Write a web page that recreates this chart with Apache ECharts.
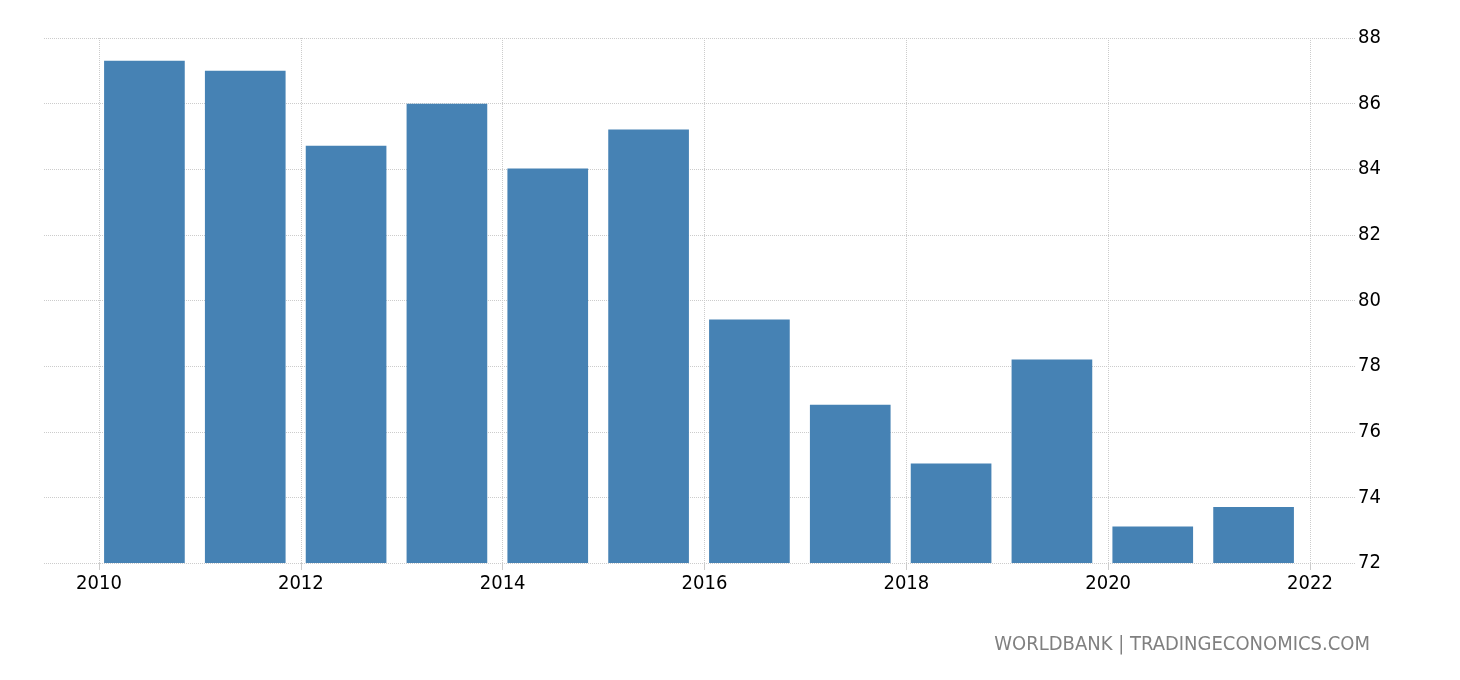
<!DOCTYPE html>
<html>
<head>
<meta charset="utf-8">
<script src="https://cdn.jsdelivr.net/npm/echarts@6/dist/echarts.min.js"></script>
<style>
    html, body { margin: 0; padding: 0; background: #fff; }
    #chart { width: 1460px; height: 680px; }
</style>
</head>
<body>
<div id="chart"></div>
<script>
// 数据
var years = ['2010', '2011', '2012', '2013', '2014', '2015', '2016', '2017', '2018', '2019', '2020', '2021'];
var values = [87.31, 87.0, 84.72, 86.0, 84.02, 85.21, 79.42, 76.82, 75.03, 78.2, 73.11, 73.71];
var yMin = 72, yMax = 88, yStep = 2;
var xMin = 2010, xMax = 2022, xStep = 2;

(function () {
    var font = "'DejaVu Sans Condensed', 'Liberation Sans', sans-serif"
    var gridColor = '#cccccc'
    var dotted = { color: gridColor, width: 1, type: [1, 1] }

    var myChart = echarts.init(document.getElementById('chart'))
    var option = {
        animation: false,
        // 0: 横向网格 + 右侧刻度, 1: 年份刻度 + 竖向网格, 2: 柱子
        grid: [
            { left: 44, right: 105, top: 38, height: 525 },
            { left: 99, right: 150, top: 38, height: 525 },
            { left: 94, right: 156, top: 38, height: 525 }
        ],
        xAxis: [
            { gridIndex: 0, type: 'value', show: false, min: 0, max: 1 },
            {
                gridIndex: 1, type: 'value', min: xMin, max: xMax, interval: xStep,
                axisLine: { show: false },
                axisTick: { show: true, length: 7, lineStyle: { color: gridColor } },
                axisLabel: {
                    color: '#000', fontFamily: font, fontSize: 20, margin: 11,
                    formatter: function (v) { return String(v) }
                },
                splitLine: { show: true, lineStyle: dotted }
            },
            { gridIndex: 2, type: 'category', data: years, show: false }
        ],
        yAxis: [
            {
                gridIndex: 0, type: 'value', position: 'right',
                min: yMin, max: yMax, interval: yStep,
                axisLine: { show: false },
                axisTick: { show: false },
                axisLabel: { color: '#000', fontFamily: font, fontSize: 20, margin: 3 },
                splitLine: { show: true, lineStyle: dotted }
            },
            { gridIndex: 1, type: 'value', show: false, min: yMin, max: yMax },
            { gridIndex: 2, type: 'value', show: false, min: yMin, max: yMax }
        ],
        series: [{
            type: 'bar',
            xAxisIndex: 2,
            yAxisIndex: 2,
            barWidth: '80%',
            itemStyle: { color: '#4682b4' },
            data: values
        }],
        graphic: [{
            type: 'text',
            right: 90,
            top: 635,
            style: {
                text: 'WORLDBANK | TRADINGECONOMICS.COM',
                fill: '#808080',
                font: "20px 'DejaVu Sans Condensed', 'Liberation Sans', sans-serif"
            }
        }]
    }
    myChart.setOption(option)
})()
</script>
</body>
</html>
